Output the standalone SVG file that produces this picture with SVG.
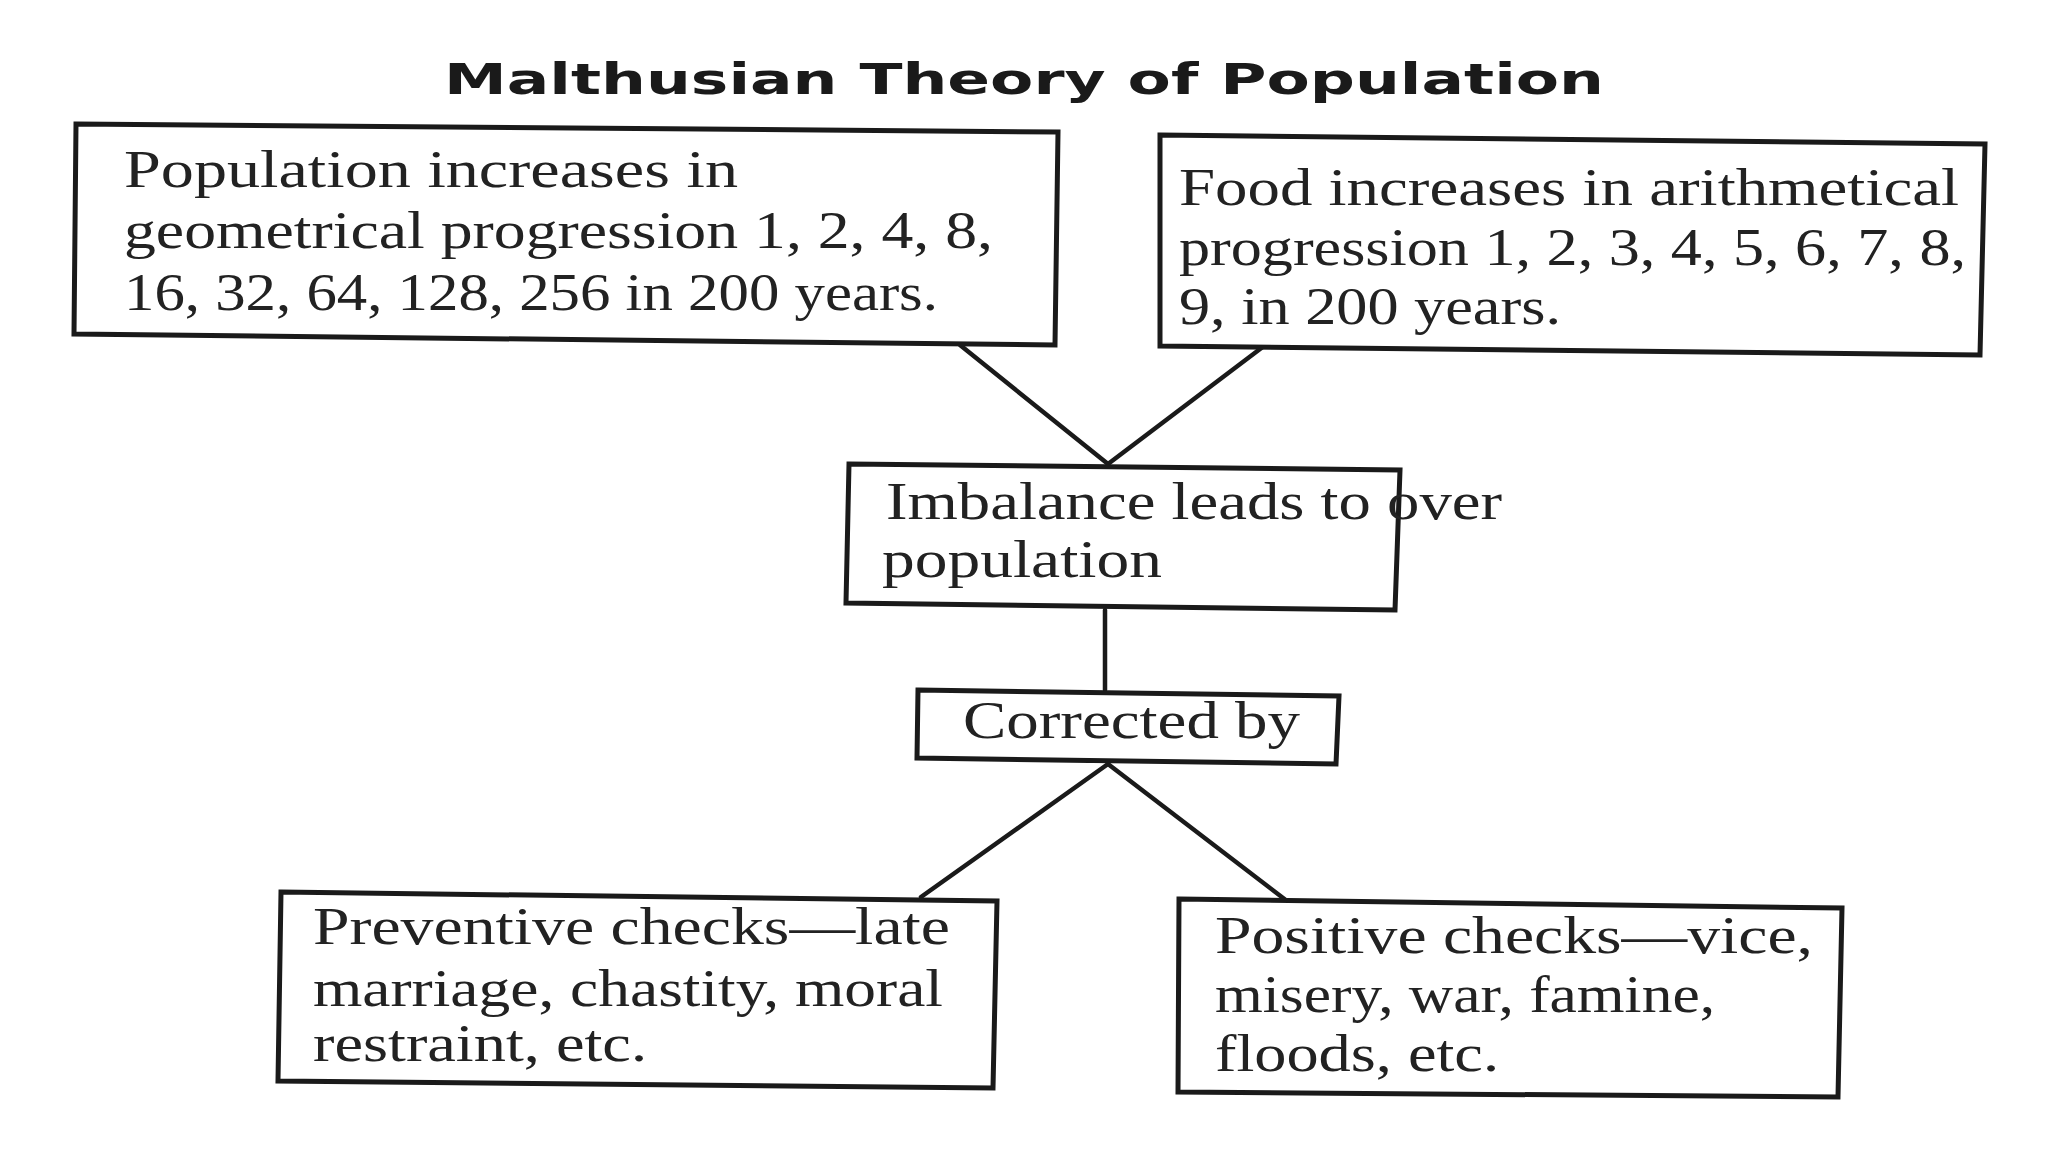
<svg xmlns="http://www.w3.org/2000/svg" width="2048" height="1152" viewBox="0 0 2048 1152">
<style>
.box{fill:#fff;stroke:#1a1a1a;stroke-width:5;stroke-linejoin:miter}
.t{font-family:"Liberation Serif","Times New Roman",serif;font-size:52px;fill:#222}
.title{font-family:"DejaVu Sans",Verdana,sans-serif;font-weight:bold;font-size:42px;fill:#1a1a1a}
.conn line{stroke:#1a1a1a;stroke-width:4.5;stroke-linecap:round}
</style>
<rect width="2048" height="1152" fill="#fff"/>
<g id="title"><text class="title" x="444" y="94" textLength="1160" lengthAdjust="spacingAndGlyphs">Malthusian Theory of Population</text></g>
<g class="conn" id="connectors">
<line x1="960" y1="345" x2="1108" y2="464"/>
<line x1="1264" y1="346" x2="1108" y2="464"/>
<line x1="1105" y1="610" x2="1105" y2="690"/>
<line x1="1108" y1="764" x2="921" y2="897"/>
<line x1="1108" y1="764" x2="1287" y2="901"/>
</g>
<g id="n-population">
<polygon class="box" points="76,124 1058,132 1055,345 74,334"/>
<text class="t" x="124" y="187" textLength="614" lengthAdjust="spacingAndGlyphs">Population increases in</text>
<text class="t" x="124" y="248" textLength="869" lengthAdjust="spacingAndGlyphs">geometrical progression 1, 2, 4, 8,</text>
<text class="t" x="124" y="310" textLength="814" lengthAdjust="spacingAndGlyphs">16, 32, 64, 128, 256 in 200 years.</text>
</g>
<g id="n-food">
<polygon class="box" points="1160,135 1985,144 1980,355 1160,346"/>
<text class="t" x="1179" y="205" textLength="780" lengthAdjust="spacingAndGlyphs">Food increases in arithmetical</text>
<text class="t" x="1179" y="265" textLength="787" lengthAdjust="spacingAndGlyphs">progression 1, 2, 3, 4, 5, 6, 7, 8,</text>
<text class="t" x="1179" y="324" textLength="382" lengthAdjust="spacingAndGlyphs">9, in 200 years.</text>
</g>
<g id="n-imbalance">
<polygon class="box" points="849,464 1400,470 1395,610 846,603"/>
<text class="t" x="886" y="519" textLength="616" lengthAdjust="spacingAndGlyphs">Imbalance leads to over</text>
<text class="t" x="882" y="577" textLength="280" lengthAdjust="spacingAndGlyphs">population</text>
</g>
<g id="n-corrected">
<polygon class="box" points="918,690 1339,696 1336,764 917,758"/>
<text class="t" x="963" y="738" textLength="337" lengthAdjust="spacingAndGlyphs">Corrected by</text>
</g>
<g id="n-preventive">
<polygon class="box" points="281,892 997,901 993,1088 278,1081"/>
<text class="t" x="313" y="944" textLength="637" lengthAdjust="spacingAndGlyphs">Preventive checks—late</text>
<text class="t" x="313" y="1006" textLength="630" lengthAdjust="spacingAndGlyphs">marriage, chastity, moral</text>
<text class="t" x="313" y="1061" textLength="334" lengthAdjust="spacingAndGlyphs">restraint, etc.</text>
</g>
<g id="n-positive">
<polygon class="box" points="1179,899 1842,908 1838,1097 1178,1092"/>
<text class="t" x="1215" y="953" textLength="598" lengthAdjust="spacingAndGlyphs">Positive checks—vice,</text>
<text class="t" x="1215" y="1012" textLength="500" lengthAdjust="spacingAndGlyphs">misery, war, famine,</text>
<text class="t" x="1215" y="1071" textLength="284" lengthAdjust="spacingAndGlyphs">floods, etc.</text>
</g>
</svg>
